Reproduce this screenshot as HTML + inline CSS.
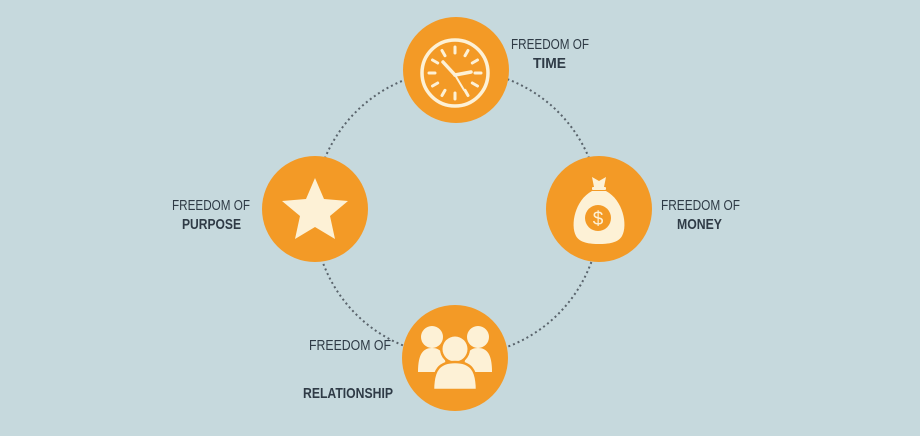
<!DOCTYPE html>
<html><head><style>
html,body{margin:0;padding:0;background:#c6d9dd;}
svg{display:block}
text{font-family:"Liberation Sans",sans-serif;fill:#2f3b46;}
.t{font-size:15px;}
.b{font-size:15px;font-weight:bold;}
</style></head><body>
<svg width="920" height="436" viewBox="0 0 920 436">
<rect width="920" height="436" fill="#c6d9dd"/>
<circle cx="457" cy="213" r="143" fill="none" stroke="#5a646c" stroke-width="2" stroke-dasharray="2 3"/>
<g fill="#f39a26">
<circle cx="456" cy="70" r="53"/>
<circle cx="599" cy="209" r="53"/>
<circle cx="315" cy="209" r="53"/>
<circle cx="455" cy="358" r="53"/>
</g>
<!-- clock -->
<g stroke="#fdf1d6" stroke-linecap="round">
<circle cx="455" cy="73" r="33" fill="none" stroke-width="3.5"/>
<g stroke-width="3">
<line x1="455" y1="47" x2="455" y2="53"/><line x1="455" y1="93" x2="455" y2="99"/>
<line x1="429" y1="73" x2="435" y2="73"/><line x1="475" y1="73" x2="481" y2="73"/>
<line x1="468" y1="50.5" x2="465" y2="55.7"/><line x1="477.5" y1="60" x2="472.3" y2="63"/>
<line x1="442" y1="50.5" x2="445" y2="55.7"/><line x1="432.5" y1="60" x2="437.7" y2="63"/>
<line x1="442" y1="95.5" x2="445" y2="90.3"/><line x1="432.5" y1="86" x2="437.7" y2="83"/>
<line x1="468" y1="95.5" x2="465" y2="90.3"/><line x1="477.5" y1="86" x2="472.3" y2="83"/>
</g>
<line x1="443" y1="62" x2="455" y2="75" stroke-width="3.5"/>
<line x1="455" y1="75" x2="471" y2="72" stroke-width="3.5"/>
<line x1="455" y1="75" x2="464" y2="90" stroke-width="2"/>
</g>
<!-- money bag -->
<g fill="#fdf1d6">
<path d="M592 177 L599 181 L606 177 L604 187 L594 187 Z"/>
<rect x="592" y="187" width="14" height="3" rx="1"/>
<path d="M592 191 C575 200 570 225 576 236 C580 243 590 244 599 244 C608 244 618 243 622 236 C628 225 623 200 606 191 Z"/>
</g>
<circle cx="598" cy="218" r="13" fill="#f39a26"/>
<text x="598" y="225" text-anchor="middle" style="font-size:19px;fill:#fdf1d6">$</text>
<!-- star -->
<polygon fill="#fdf1d6" points="315,178 324,199 348,201 330,216 335,239 315,227 295,239 300,216 282,201 306,199"/>
<!-- people -->
<g fill="#fdf1d6">
<circle cx="432" cy="337" r="11"/>
<circle cx="478" cy="337" r="11"/>
<path d="M418 372 C418 354 423 348 432 348 C441 348 446 354 446 372 Z"/>
<path d="M464 372 C464 354 469 348 478 348 C487 348 492 354 492 372 Z"/>
<circle cx="455" cy="349" r="15" fill="#f39a26"/>
<circle cx="455" cy="349" r="12.5"/>
<path d="M433 390 C433 369 440 362 455 362 C470 362 477 369 477 390 Z" stroke="#f39a26" stroke-width="2.5"/>
</g>
<!-- labels -->
<text class="t" x="511" y="49" textLength="78" lengthAdjust="spacingAndGlyphs">FREEDOM OF</text>
<text class="b" x="533" y="68" textLength="33" lengthAdjust="spacingAndGlyphs">TIME</text>
<text class="t" x="661" y="210" textLength="79" lengthAdjust="spacingAndGlyphs">FREEDOM OF</text>
<text class="b" x="677" y="229" textLength="45" lengthAdjust="spacingAndGlyphs">MONEY</text>
<text class="t" x="172" y="210" textLength="78" lengthAdjust="spacingAndGlyphs">FREEDOM OF</text>
<text class="b" x="182" y="229" textLength="59" lengthAdjust="spacingAndGlyphs">PURPOSE</text>
<text class="t" x="309" y="350" textLength="82" lengthAdjust="spacingAndGlyphs">FREEDOM OF</text>
<text class="b" x="303" y="398" textLength="90" lengthAdjust="spacingAndGlyphs">RELATIONSHIP</text>
</svg>
</body></html>
